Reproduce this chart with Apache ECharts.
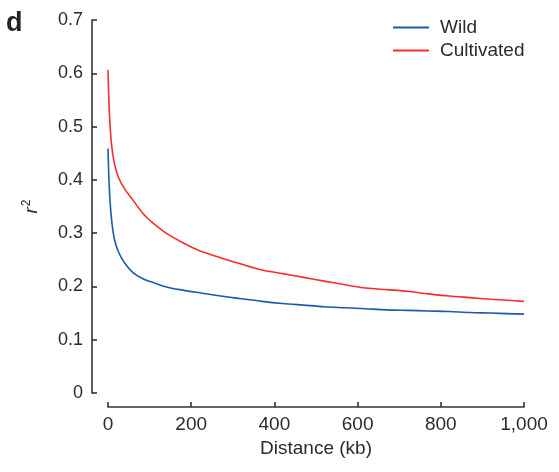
<!DOCTYPE html>
<html>
<head>
<meta charset="utf-8">
<script src="https://cdn.jsdelivr.net/npm/echarts@6/dist/echarts.min.js"></script>
<style>
html,body{margin:0;padding:0;background:#fff;}
#c{width:559px;height:472px;}
</style>
</head>
<body>
<div id="c"></div>
<script>
const distance = [0, 3, 8, 15, 25, 40, 60, 85, 110, 140, 180, 220, 270, 320, 370, 420, 470, 520, 570, 620, 670, 720, 770, 820, 870, 920, 960, 1000];
const wild = [0.459, 0.387, 0.33, 0.29, 0.265, 0.244, 0.226, 0.214, 0.207, 0.199, 0.193, 0.188, 0.182, 0.177, 0.172, 0.168, 0.165, 0.162, 0.160, 0.158, 0.156, 0.155, 0.154, 0.153, 0.151, 0.150, 0.149, 0.148];
const cultivated = [0.606, 0.531, 0.47, 0.432, 0.405, 0.383, 0.362, 0.336, 0.318, 0.300, 0.282, 0.267, 0.254, 0.242, 0.231, 0.224, 0.217, 0.210, 0.203, 0.197, 0.194, 0.191, 0.186, 0.182, 0.179, 0.176, 0.174, 0.172];
const xTicks = [0, 200, 400, 600, 800, 1000];
const yTicks = [0, 0.1, 0.2, 0.3, 0.4, 0.5, 0.6, 0.7];

const chart = echarts.init(document.getElementById('c'));
const font = 'Liberation Sans, Arial, sans-serif';
const axisCol = '#333';
const txt = '#2b2b2b';
chart.setOption({
  animation: false,
  backgroundColor: '#fff',
  grid: {left: 108, right: 35, top: 20, bottom: 79, containLabel: false},
  title: {text: 'd', left: 6, top: 10, padding: [0, 0, 0, 0], textStyle: {fontFamily: font, fontWeight: 'bold', fontSize: 27, color: '#222'}},
  legend: {
    orient: 'vertical', left: 393, top: 18, itemGap: 4, padding: 0,
    icon: 'rect', itemWidth: 36, itemHeight: 2,
    textStyle: {fontFamily: font, fontSize: 19, lineHeight: 19, color: txt, padding: [0, 0, 0, 6]},
    data: ['Wild', 'Cultivated']
  },
  xAxis: {
    type: 'value', min: 0, max: 1000, interval: 200, offset: 14,
    axisLine: {show: true, onZero: false, lineStyle: {color: axisCol, width: 1.6}},
    axisTick: {show: true, inside: true, length: 5, lineStyle: {color: axisCol, width: 1.6}},
    splitLine: {show: false},
    axisLabel: {fontFamily: font, fontSize: 19, color: txt, margin: 8,
      formatter: v => xTicks.includes(v) ? v.toLocaleString('en-US') : ''},
    name: 'Distance (kb)', nameLocation: 'middle', nameGap: 31,
    nameTextStyle: {fontFamily: font, fontSize: 19, color: txt}
  },
  yAxis: {
    type: 'value', min: 0, max: 0.7, interval: 0.1, offset: 16,
    axisLine: {show: true, onZero: false, lineStyle: {color: axisCol, width: 1.6}},
    axisTick: {show: true, inside: true, length: 5, lineStyle: {color: axisCol, width: 1.6}},
    splitLine: {show: false},
    axisLabel: {fontFamily: font, fontSize: 18, color: txt, margin: 9,
      formatter: v => { const t = yTicks.find(y => Math.abs(y - v) < 1e-9); return t === 0 ? '0' : t.toFixed(1); }},
    name: '{i|r}{s|2}', nameLocation: 'middle', nameGap: 50, nameRotate: 90,
    nameTextStyle: {rich: {
      i: {fontFamily: font, fontStyle: 'italic', fontSize: 19, color: txt},
      s: {fontFamily: font, fontSize: 12, color: txt, verticalAlign: 'top', padding: [0, 0, 9, 1]}
    }}
  },
  series: [
    {name: 'Wild', type: 'line', smooth: 0.3, symbol: 'none',
     lineStyle: {color: '#1c5ba8', width: 1.6}, itemStyle: {color: '#1c5ba8'},
     data: distance.map((d, i) => [d, wild[i]])},
    {name: 'Cultivated', type: 'line', smooth: 0.3, symbol: 'none',
     lineStyle: {color: '#f92c2c', width: 1.6}, itemStyle: {color: '#f92c2c'},
     data: distance.map((d, i) => [d, cultivated[i]])}
  ]
});
</script>
</body>
</html>
